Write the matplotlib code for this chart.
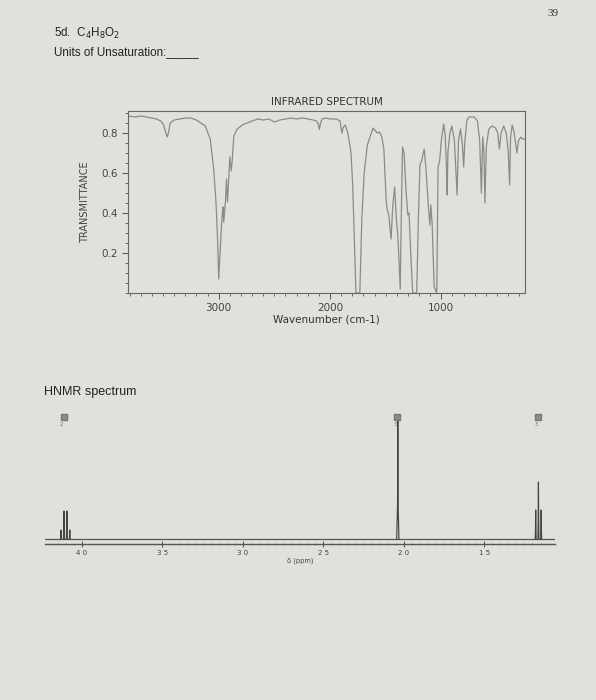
import matplotlib
matplotlib.use("Agg")
import matplotlib.pyplot as plt
from matplotlib.ticker import MultipleLocator

# IR spectrum (wavenumber cm-1, transmittance)
ir_wn = [3815, 3750, 3700, 3650, 3600, 3560, 3520, 3495, 3475, 3463, 3452, 3435, 3400,
         3350, 3300, 3250, 3200, 3160, 3121, 3076, 3045, 3024, 3009, 3000, 2988,
         2976, 2967, 2961, 2955, 2948, 2939, 2930, 2921, 2912, 2900, 2888, 2879,
         2864, 2833, 2788, 2700, 2650, 2600, 2550, 2500, 2450, 2400, 2350, 2300,
         2250, 2200, 2150, 2120, 2105, 2095, 2085, 2070, 2040, 2000, 1940, 1910,
         1893, 1880, 1864, 1845, 1831, 1811, 1796, 1767, 1761, 1732, 1714, 1693,
         1664, 1634, 1613, 1590, 1575, 1555, 1535, 1516, 1496, 1487, 1472, 1451,
         1437, 1419, 1404, 1392, 1378, 1369, 1360, 1348, 1334, 1319, 1301, 1290,
         1272, 1257, 1221, 1206, 1192, 1177, 1154, 1139, 1118, 1103, 1094, 1082,
         1064, 1041, 1029, 1015, 1000, 979, 965, 953, 947, 941, 923, 905, 882, 858,
         846, 828, 810, 799, 788, 770, 749, 705, 675, 655, 640, 628, 617, 608, 596,
         573, 543, 513, 493, 478, 463, 440, 416, 398, 386, 378, 363, 345, 321, 307,
         286, 272, 250]
ir_t = [0.885, 0.88, 0.885, 0.88, 0.875, 0.87, 0.86, 0.84, 0.80, 0.78, 0.80, 0.85, 0.865,
        0.87, 0.875, 0.875, 0.865, 0.85, 0.835, 0.77, 0.62, 0.45, 0.25, 0.07, 0.20,
        0.33, 0.40, 0.43, 0.355, 0.40, 0.46, 0.57, 0.455, 0.55, 0.68, 0.61, 0.66,
        0.785, 0.82, 0.84, 0.86, 0.87, 0.865, 0.87, 0.855, 0.865, 0.87, 0.875, 0.87,
        0.875, 0.87, 0.865, 0.86, 0.845, 0.818, 0.85, 0.87, 0.875, 0.87, 0.87, 0.86,
        0.80, 0.83, 0.84, 0.81, 0.77, 0.70, 0.537, 0.0, 0.0, 0.0, 0.37, 0.60,
        0.74, 0.79, 0.825, 0.81, 0.80, 0.805, 0.78, 0.72, 0.47, 0.42, 0.39, 0.27,
        0.43, 0.53, 0.37, 0.30, 0.14, 0.02, 0.37, 0.73, 0.70, 0.53, 0.39, 0.40,
        0.17, 0.0, 0.0, 0.37, 0.64, 0.66, 0.72, 0.63, 0.45, 0.34, 0.44, 0.34,
        0.03, 0.0, 0.63, 0.66, 0.76, 0.845, 0.79, 0.62, 0.49, 0.70, 0.80, 0.835, 0.76, 0.49,
        0.76, 0.82, 0.74, 0.63, 0.76, 0.865, 0.88, 0.88, 0.86, 0.76, 0.50, 0.78, 0.70, 0.45, 0.73,
        0.82, 0.835, 0.825, 0.80, 0.72, 0.80, 0.835, 0.80, 0.70, 0.54, 0.78, 0.84, 0.80, 0.70, 0.76,
        0.78, 0.77, 0.77]

# HNMR peaks (ppm, height) and integrations
nmr_shift = [4.130, 4.112, 4.094, 4.076, 2.037, 1.180, 1.163, 1.146]
nmr_height = [9, 28, 28, 9, 120, 29, 57, 29]
integ_ppm = [4.115, 2.04, 1.165]
integ_label = ["2", "3", "3"]

bg = "#e1e0db"
fig = plt.figure(figsize=(5.96, 7), dpi=100, facecolor=bg)

def fx(px):
    return px / 596

def fy(py):
    return 1 - py / 700

# header texts
fig.text(fx(54), fy(33), "5d.  C$_4$H$_8$O$_2$", fontsize=8.4, family="Liberation Sans",
         color="#222", va="center")
fig.text(fx(54), fy(52), "Units of Unsaturation:_____", fontsize=8.4, family="Liberation Sans",
         color="#222", va="center")
fig.text(fx(547), fy(13), "39", fontsize=8, family="Liberation Serif", color="#333", va="center")
fig.text(fx(44), fy(392), "HNMR spectrum", fontsize=9, family="Liberation Sans",
         color="#222", va="center")

# IR plot
ax = fig.add_axes([fx(128), fy(293), fx(525 - 128), (293 - 111) / 700])
ax.set_facecolor(bg)
ax.plot(ir_wn, ir_t, color="#8a8a8a", lw=0.9)
ax.set_xlim(3815, 248)
ax.set_ylim(0, 0.91)
ax.set_xticks([3000, 2000, 1000])
ax.set_yticks([0.2, 0.4, 0.6, 0.8])
ax.set_yticklabels(["0.2", "0.4", "0.6", "0.8"])
ax.xaxis.set_minor_locator(MultipleLocator(100))
ax.yaxis.set_minor_locator(MultipleLocator(0.05))
ax.tick_params(colors="#555", labelcolor="#444", labelsize=7.5, width=0.7, length=4)
ax.tick_params(which="minor", colors="#555", length=2, width=0.6)
for s in ax.spines.values():
    s.set_color("#666")
    s.set_linewidth(0.8)
ax.set_title("INFRARED SPECTRUM", fontsize=7.5, color="#333", pad=4)
ax.set_xlabel("Wavenumber (cm-1)", fontsize=7.5, color="#333", labelpad=1)
ax.set_ylabel("TRANSMITTANCE", fontsize=7, color="#444", labelpad=8)

# HNMR plot
ax2 = fig.add_axes([fx(45), fy(544), fx(555 - 45), (544 - 400) / 700])
ax2.set_facecolor(bg)
ax2.patch.set_alpha(0)
ax2.plot([4.23, 1.06], [0, 0], color="#555", lw=0.9)
for x, h in zip(nmr_shift, nmr_height):
    w = 0.007 if h > 100 else 0.003
    ax2.plot([x - w, x - 0.0015, x, x + 0.0015, x + w], [0, h * 0.3, h, h * 0.3, 0],
             color="#444", lw=0.85)
for x, lab in zip(integ_ppm, integ_label):
    ax2.plot(x, 122, marker="s", ms=4.5, color="#8c8c8c", mec="#777", clip_on=False)
    ax2.text(x + 0.015, 115, lab, fontsize=3.5, color="#666", ha="center", va="center")
ax2.set_xlim(4.23, 1.06)
ax2.set_ylim(-5, 139)
ax2.set_xticks([4.0, 3.5, 3.0, 2.5, 2.0, 1.5])
ax2.set_xticklabels(["4 0", "3 5", "3 0", "2 5", "2 0", "1 5"])
ax2.xaxis.set_minor_locator(MultipleLocator(0.05))
ax2.tick_params(axis="x", direction="inout", colors="#555", labelcolor="#444",
                labelsize=5, length=4, width=0.8, pad=2.5)
ax2.tick_params(axis="x", which="minor", direction="inout", length=2, width=0.6, colors="#777")
ax2.set_yticks([])
for k in ["top", "left", "right"]:
    ax2.spines[k].set_visible(False)
ax2.spines["bottom"].set_color("#555")
ax2.spines["bottom"].set_linewidth(1.0)
ax2.set_xlabel("δ (ppm)", fontsize=4.8, color="#444", labelpad=1)

fig.savefig("out.png", dpi=100, facecolor=bg)
